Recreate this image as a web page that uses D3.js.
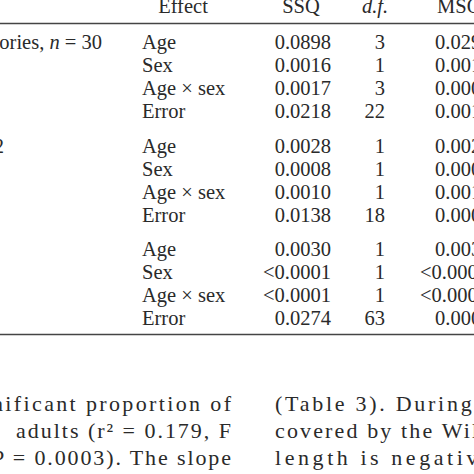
<!DOCTYPE html>
<html><head><meta charset="utf-8">
<script src="https://cdn.jsdelivr.net/npm/d3@7"></script>
<style>body{margin:0;background:#fff}svg{display:block}text{font-family:"Liberation Serif","DejaVu Serif",serif;fill:#2a2a2a}</style>
</head><body>
<script>
// table contents
const groupLabels = ["Juveniles, all categories, n = 30", "Subadults, n = 22", "Adults, n = 67"];
const effects = ["Age", "Sex", "Age  \u00d7  sex", "Error"];
const ssq = [["0.0898","0.0016","0.0017","0.0218"],["0.0028","0.0008","0.0010","0.0138"],["0.0030","<0.0001","<0.0001","0.0274"]];
const dfs = [[3,1,3,22],[1,1,1,18],[1,1,1,63]];
const msq = [["0.0299","0.0016","0.0006","0.0010"],["0.0028","0.0008","0.0010","0.0008"],["0.0030","<0.0001","<0.0001","0.0004"]];
const leftLines = ["nificant proportion of", "adults (r\u00b2 = 0.179, F", "P = 0.0003). The slope"];
const rightLines = ["(Table 3). During the", "covered by the Wilson", "length is negatively"];

const W = 474, H = 474;
const svg = d3.select("body").append("svg").attr("width", W).attr("height", H);
const fs = 20.5;

// header
const header = svg.append("g").attr("font-size", fs);
header.append("text").attr("x", 183).attr("y", 13).attr("text-anchor", "middle").text("Effect");
header.append("text").attr("x", 301).attr("y", 13).attr("text-anchor", "middle").text("SSQ");
header.append("text").attr("x", 375).attr("y", 13).attr("text-anchor", "middle").attr("font-style", "italic").text("d.f.");
header.append("text").attr("x", 437).attr("y", 13).text("MSQ");
svg.append("line").attr("x1", 0).attr("x2", W).attr("y1", 23.5).attr("y2", 23.5).attr("stroke", "#444").attr("stroke-width", 1.3);

// rows: group g, row r -> baseline
const y = d3.scaleLinear().domain([0, 1]).range([49, 72]);
const groupTop = [0, 4.5, 9];
const rowY = (g, r) => y(groupTop[g] + r);
const labelEnd = [102, 4, -4];

groupLabels.forEach((lab, g) => {
  const grp = svg.append("g").attr("font-size", fs).attr("xml:space", "preserve");
  const [pre, num] = lab.split(/n = /);
  const t = grp.append("text").attr("x", labelEnd[g]).attr("y", rowY(g, 0)).attr("text-anchor", "end");
  t.append("tspan").text(pre);
  t.append("tspan").attr("font-style", "italic").text("n");
  t.append("tspan").text("  =  " + num);
  effects.forEach((e, r) => {
    const yy = rowY(g, r);
    grp.append("text").attr("x", 142).attr("y", yy).text(e);
    grp.append("text").attr("x", 331).attr("y", yy).attr("text-anchor", "end").text(ssq[g][r]);
    grp.append("text").attr("x", 385).attr("y", yy).attr("text-anchor", "end").text(dfs[g][r]);
    grp.append("text").attr("x", msq[g][r][0] === "<" ? 420 : 435).attr("y", yy).text(msq[g][r]);
  });
});
svg.append("line").attr("x1", 0).attr("x2", W).attr("y1", 334.5).attr("y2", 334.5).attr("stroke", "#444").attr("stroke-width", 1.3);

// body text below the table
const ly = d3.scaleLinear().domain([0, 1]).range([411, 438]);
const para = svg.append("g").attr("font-size", 22);
leftLines.forEach((s, i) => {
  para.append("text").attr("x", i === 1 ? 16 : -8).attr("y", ly(i))
    .attr("textLength", i === 1 ? 215 : 239).attr("lengthAdjust", "spacing").text(s);
});
rightLines.forEach((s, i) => {
  para.append("text").attr("x", 275).attr("y", ly(i))
    .attr("textLength", 240).attr("lengthAdjust", "spacing").text(s);
});
</script>
</body></html>
